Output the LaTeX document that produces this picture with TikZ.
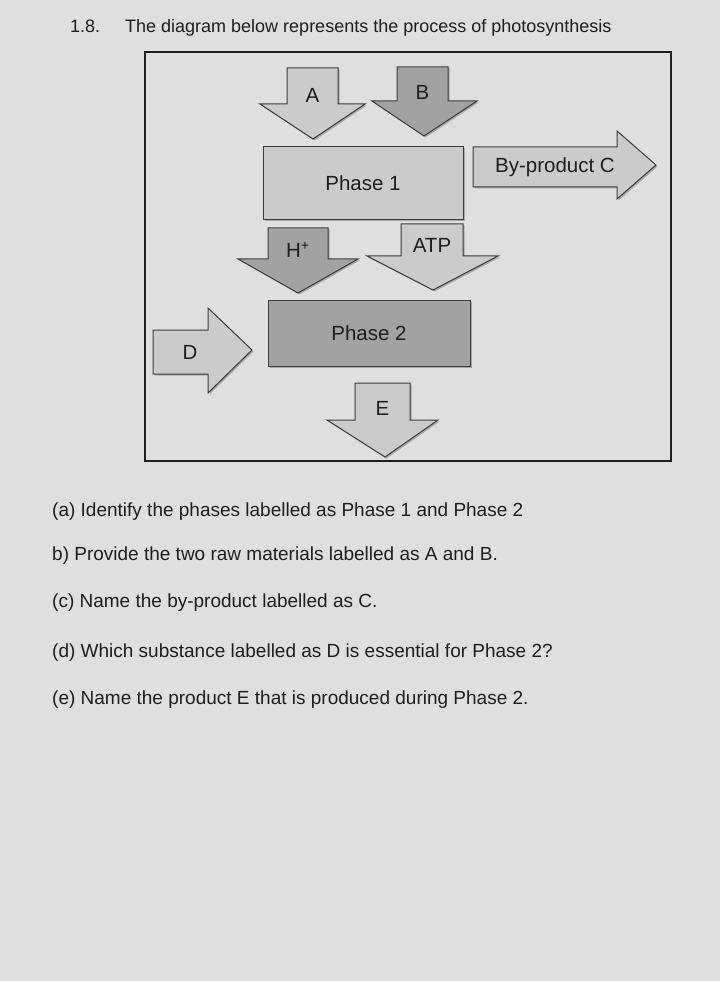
\documentclass[tikz,border=0pt]{standalone}
\usepackage{fontspec}
\setmainfont{Liberation Sans}
\usetikzlibrary{shadows}
\definecolor{paper}{HTML}{DFDFDF}
\definecolor{lightfill}{HTML}{CBCBCB}
\definecolor{darkfill}{HTML}{A2A2A2}
\definecolor{ink}{HTML}{1E1E1E}
\definecolor{edge}{HTML}{3C3C3C}
\tikzset{
  arrowshape/.style={draw=edge, line width=1pt, line join=miter,
    drop shadow={shadow xshift=1.5pt, shadow yshift=-1.5pt, fill=black, opacity=0.25}},
  lightarrow/.style={arrowshape, fill=lightfill},
  darkarrow/.style={arrowshape, fill=darkfill},
  lbl/.style={text=ink, font=\fontsize{20.5}{24}\selectfont, inner sep=0pt},
  phasebox/.style={draw=edge, line width=1pt, inner sep=0pt, text=ink,
    font=\fontsize{20.5}{24}\selectfont,
    drop shadow={shadow xshift=1.5pt, shadow yshift=-1.5pt, fill=black, opacity=0.25}},
  frame/.style={draw=ink, line width=1.4pt, inner sep=0pt},
  qtext/.style={anchor=base west, text=ink, font=\fontsize{19}{22}\selectfont, inner sep=0pt},
  ttext/.style={anchor=base west, text=ink, font=\fontsize{18}{22}\selectfont, inner sep=0pt},
}
\begin{document}
\begin{tikzpicture}[x=1pt, y=-1pt]
\useasboundingbox (0,0) rectangle (720,981);
\fill[paper] (0,0) rectangle (720,981);

% title
\node[ttext] (num) at (70,33) {1.8.};
\node[ttext] (title) at (125,33) {The diagram below represents the process of photosynthesis};

% frame
\node[frame, minimum width=526pt, minimum height=409pt] (frame) at (408,256.5) {};

% A (down arrow)
\draw[lightarrow] (287,68) -- (338,68) -- (338,104) -- (365,104) -- (313,139) -- (260,104) -- (287,104) -- cycle;
\node[lbl] (A) at (312.5,95) {A};
% B (down arrow)
\draw[darkarrow] (397,67) -- (448,67) -- (448,101) -- (477,101) -- (424,136) -- (372,101) -- (397,101) -- cycle;
\node[lbl] (B) at (422.5,92) {B};

% Phase 1
\node[phasebox, fill=lightfill, minimum width=200pt, minimum height=73pt] (p1) at (363,183.5) {Phase 1};

% By-product C (right arrow)
\draw[lightarrow] (473,147) -- (617,147) -- (617,131) -- (656,165) -- (617,199) -- (617,187) -- (473,187) -- cycle;
\node[lbl] (C) at (555,167) {By-product C};

% H+ (down arrow)
\draw[darkarrow] (268,228) -- (328,228) -- (328,259) -- (358,259) -- (298,293) -- (238,259) -- (268,259) -- cycle;
\node[lbl] (H) at (298,250) {H\textsuperscript{+}};

% ATP (down arrow)
\draw[lightarrow] (401,224) -- (463,224) -- (463,256) -- (498,256) -- (433,290) -- (367,256) -- (401,256) -- cycle;
\node[lbl] (ATP) at (432,245) {ATP};

% Phase 2
\node[phasebox, fill=darkfill, minimum width=202pt, minimum height=66pt] (p2) at (369,333.5) {Phase 2};

% D (right arrow)
\draw[lightarrow] (153,330) -- (208,330) -- (208,308) -- (252,350) -- (208,393) -- (208,374) -- (153,374) -- cycle;
\node[lbl] (D) at (190,352) {D};

% E (down arrow)
\draw[lightarrow] (355,383) -- (410,383) -- (410,420) -- (438,420) -- (385,457) -- (327,420) -- (355,420) -- cycle;
\node[lbl] (E) at (382.5,408) {E};

% questions
\node[qtext] (qa) at (52,516) {(a) Identify the phases labelled as Phase 1 and Phase 2};
\node[qtext] (qb) at (52,560) {b) Provide the two raw materials labelled as A and B.};
\node[qtext] (qc) at (52,607) {(c) Name the by-product labelled as C.};
\node[qtext] (qd) at (52,657) {(d) Which substance labelled as D is essential for Phase 2?};
\node[qtext] (qe) at (52,704) {(e) Name the product E that is produced during Phase 2.};
\end{tikzpicture}
\end{document}
